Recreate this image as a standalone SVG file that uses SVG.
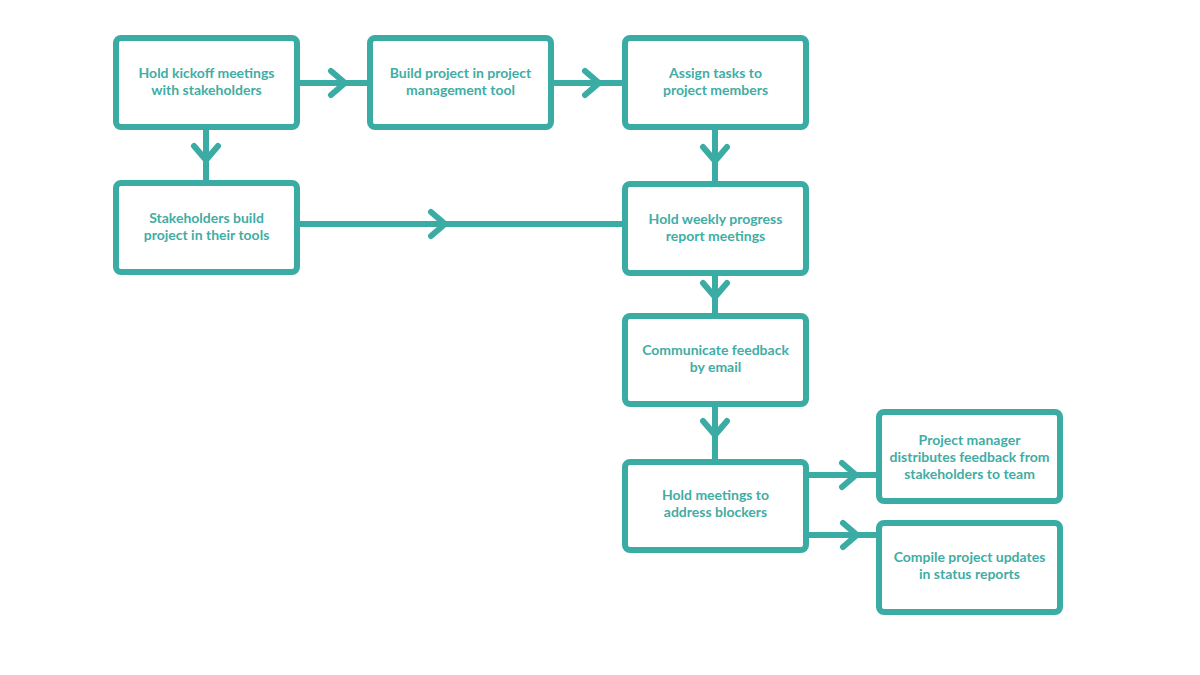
<svg xmlns="http://www.w3.org/2000/svg" xmlns:xlink="http://www.w3.org/1999/xlink" width="1200" height="675" viewBox="0 0 1200 675">
<style>
  .box { fill: #ffffff; stroke: #3aaca4; stroke-width: 6; }
  .lbl { font-family: Lato, "Open Sans", "Liberation Sans", sans-serif; font-weight: 700; font-size: 14px; fill: #3fada5; text-anchor: middle; }
  .conn { stroke: #3aaca4; stroke-width: 6; fill: none; stroke-linecap: round; stroke-linejoin: round; }
</style>
<defs>
  <path id="chev" d="M -14 -12 L 0 0 L -14 12" class="conn"/>
</defs>
<rect width="1200" height="675" fill="#ffffff"/>
<g id="connectors">
  <line class="conn" x1="300" y1="83" x2="367" y2="83"/>
  <use xlink:href="#chev" transform="translate(345 83)"/>
  <line class="conn" x1="554" y1="83" x2="622" y2="83"/>
  <use xlink:href="#chev" transform="translate(599 83)"/>
  <line class="conn" x1="206" y1="130" x2="206" y2="180"/>
  <use xlink:href="#chev" transform="translate(206 160) rotate(90)"/>
  <line class="conn" x1="715" y1="130" x2="715" y2="181"/>
  <use xlink:href="#chev" transform="translate(715 161) rotate(90)"/>
  <line class="conn" x1="300" y1="224" x2="622" y2="224"/>
  <use xlink:href="#chev" transform="translate(445 224)"/>
  <line class="conn" x1="715" y1="276" x2="715" y2="313"/>
  <use xlink:href="#chev" transform="translate(715 297) rotate(90)"/>
  <line class="conn" x1="715" y1="407" x2="715" y2="459"/>
  <use xlink:href="#chev" transform="translate(715 435) rotate(90)"/>
  <line class="conn" x1="808" y1="475" x2="876" y2="475"/>
  <use xlink:href="#chev" transform="translate(856 475)"/>
  <line class="conn" x1="808" y1="535" x2="876" y2="535"/>
  <use xlink:href="#chev" transform="translate(857 535)"/>
</g>
<g id="n1">
  <rect class="box" x="116" y="38" width="181" height="89" rx="5"/>
  <text class="lbl" x="206.5" y="78">Hold kickoff meetings</text>
  <text class="lbl" x="206.5" y="95">with stakeholders</text>
</g>
<g id="n2">
  <rect class="box" x="370" y="38" width="181" height="89" rx="5"/>
  <text class="lbl" x="460.5" y="78">Build project in project</text>
  <text class="lbl" x="460.5" y="95">management tool</text>
</g>
<g id="n3">
  <rect class="box" x="625" y="38" width="181" height="89" rx="5"/>
  <text class="lbl" x="715.5" y="78">Assign tasks to</text>
  <text class="lbl" x="715.5" y="95">project members</text>
</g>
<g id="n4">
  <rect class="box" x="116" y="183" width="181" height="89" rx="5"/>
  <text class="lbl" x="206.5" y="223">Stakeholders build</text>
  <text class="lbl" x="206.5" y="240">project in their tools</text>
</g>
<g id="n5">
  <rect class="box" x="625" y="184" width="181" height="89" rx="5"/>
  <text class="lbl" x="715.5" y="224">Hold weekly progress</text>
  <text class="lbl" x="715.5" y="241">report meetings</text>
</g>
<g id="n6">
  <rect class="box" x="625" y="316" width="181" height="88" rx="5"/>
  <text class="lbl" x="715.5" y="355">Communicate feedback</text>
  <text class="lbl" x="715.5" y="372">by email</text>
</g>
<g id="n7">
  <rect class="box" x="625" y="462" width="181" height="88" rx="5"/>
  <text class="lbl" x="715.5" y="500">Hold meetings to</text>
  <text class="lbl" x="715.5" y="517">address blockers</text>
</g>
<g id="n8">
  <rect class="box" x="879" y="412" width="181" height="89" rx="5"/>
  <text class="lbl" x="969.5" y="445">Project manager</text>
  <text class="lbl" x="969.5" y="462">distributes feedback from</text>
  <text class="lbl" x="969.5" y="479">stakeholders to team</text>
</g>
<g id="n9">
  <rect class="box" x="879" y="523" width="181" height="89" rx="5"/>
  <text class="lbl" x="969.5" y="562">Compile project updates</text>
  <text class="lbl" x="969.5" y="579">in status reports</text>
</g>
</svg>
